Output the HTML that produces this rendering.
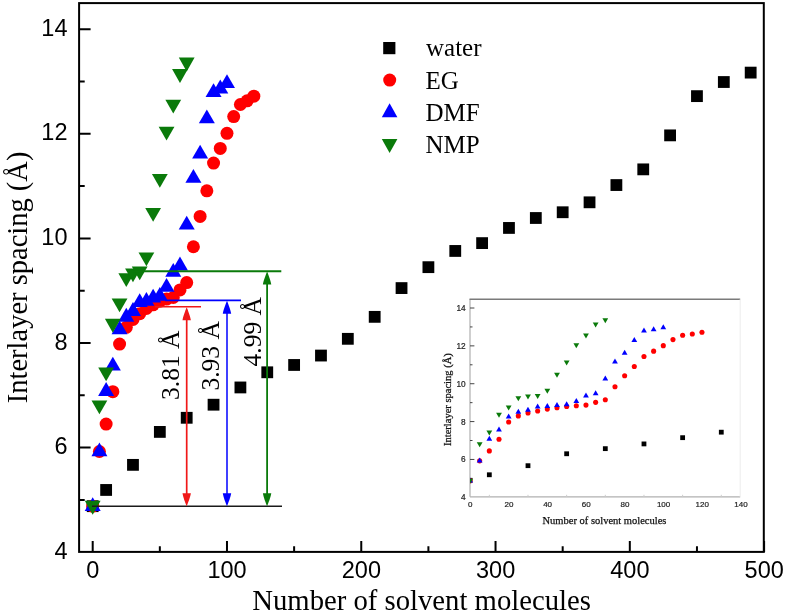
<!DOCTYPE html>
<html><head><meta charset="utf-8"><title>Interlayer spacing vs number of solvent molecules</title>
<style>
html,body{margin:0;padding:0;background:#fff;}
body{width:785px;height:613px;overflow:hidden;}
svg{display:block;}
.sans{font-family:"Liberation Sans",Arial,sans-serif;}
.serif{font-family:"Liberation Serif","Times New Roman",serif;}
</style></head><body>
<svg width="785" height="613" viewBox="0 0 785 613">
<rect width="785" height="613" fill="#fff"/>

<path d="M92.7 551.9V541.1M226.98 551.9V541.1M361.26 551.9V541.1M495.54 551.9V541.1M629.82 551.9V541.1M764.1 551.9V541.1M159.84 551.9V546.3M294.12 551.9V546.3M428.4 551.9V546.3M562.68 551.9V546.3M696.96 551.9V546.3M79.1 447.6H90.6M79.1 343H90.6M79.1 238.4H90.6M79.1 133.8H90.6M79.1 29.2H90.6M79.1 499.9H84.7M79.1 395.3H84.7M79.1 290.7H84.7M79.1 186.1H84.7M79.1 81.5H84.7" stroke="#000" stroke-width="2" fill="none"/>
<rect x="79.1" y="3.1" width="684.7" height="548.8" fill="none" stroke="#000" stroke-width="2"/>
<g class="sans" font-size="23.5" fill="#000" text-anchor="end">
<text x="67.5" y="558.7">4</text>
<text x="67.5" y="454.1">6</text>
<text x="67.5" y="349.5">8</text>
<text x="67.5" y="244.9">10</text>
<text x="67.5" y="140.3">12</text>
<text x="67.5" y="35.7">14</text>
</g>
<g class="sans" font-size="23.5" fill="#000" text-anchor="middle">
<text x="92.8" y="578.3">0</text>
<text x="227.08" y="578.3">100</text>
<text x="361.36" y="578.3">200</text>
<text x="495.64" y="578.3">300</text>
<text x="629.92" y="578.3">400</text>
<text x="764.2" y="578.3">500</text>
</g>
<text class="serif" font-size="28.7" x="252.3" y="610.3">Number of solvent molecules</text>
<text class="serif" font-size="28.5" transform="translate(26.5 403.2) rotate(-90)">Interlayer spacing (Å)</text>
<defs><clipPath id="ic"><rect x="470.0" y="299.2" width="270.2" height="197.6"/></clipPath></defs>
<g>
<path d="M470.0 496.8V299.2" stroke="#a8a8a8" stroke-width="1.1" fill="none"/>
<path d="M470.0 496.8H740.2" stroke="#b0b0b0" stroke-width="1.2" fill="none"/>
<path d="M469.5 299.2H740.2" stroke="#7a7a7a" stroke-width="1.6" fill="none"/>
<path d="M740.2 299.2V496.8" stroke="#ececec" stroke-width="1" fill="none"/>
<path d="M470.0 459.44h4.4M470.0 421.58h4.4M470.0 383.72h4.4M470.0 345.86h4.4M470.0 308h4.4M470.0 478.37h2.5M470.0 440.51h2.5M470.0 402.65h2.5M470.0 364.79h2.5M470.0 326.93h2.5" stroke="#444" stroke-width="1" fill="none"/>
<path d="M489.33 496.8v-2M527.99 496.8v-2M566.65 496.8v-2M605.31 496.8v-2M643.97 496.8v-2M682.63 496.8v-2M721.29 496.8v-2" stroke="#ccc" stroke-width="1" fill="none"/>
<g class="sans" font-size="8.3" fill="#222" stroke="#222" stroke-width="0.2" text-anchor="end">
<text x="465.7" y="500.3">4</text>
<text x="465.7" y="462.44">6</text>
<text x="465.7" y="424.58">8</text>
<text x="465.7" y="386.72">10</text>
<text x="465.7" y="348.86">12</text>
<text x="465.7" y="311">14</text>
</g>
<g class="sans" font-size="8" fill="#222" stroke="#222" stroke-width="0.2" text-anchor="middle">
<text x="470.3" y="507.4">0</text>
<text x="508.96" y="507.4">20</text>
<text x="547.62" y="507.4">40</text>
<text x="586.28" y="507.4">60</text>
<text x="624.94" y="507.4">80</text>
<text x="663.6" y="507.4">100</text>
<text x="702.26" y="507.4">120</text>
<text x="740.92" y="507.4">140</text>
</g>
<text class="serif" font-size="10.5" fill="#111" stroke="#111" stroke-width="0.25" x="542.5" y="523.5">Number of solvent molecules</text>
<text class="serif" font-size="10.5" fill="#111" stroke="#111" stroke-width="0.25" transform="translate(451 446) rotate(-90)">Interlayer spacing (Å)</text>
<g clip-path="url(#ic)">
<g fill="#000"><rect x="467.6" y="478.24" width="4.8" height="4.8"/><rect x="486.93" y="472.37" width="4.8" height="4.8"/><rect x="525.59" y="463.29" width="4.8" height="4.8"/><rect x="564.25" y="451.36" width="4.8" height="4.8"/><rect x="602.91" y="446.25" width="4.8" height="4.8"/><rect x="641.57" y="441.52" width="4.8" height="4.8"/><rect x="680.23" y="435.27" width="4.8" height="4.8"/><rect x="718.89" y="429.78" width="4.8" height="4.8"/></g>
<g fill="#ff0000"><circle cx="470" cy="480.64" r="2.55"/><circle cx="479.67" cy="460.86" r="2.55"/><circle cx="489.33" cy="450.92" r="2.55"/><circle cx="499" cy="439.18" r="2.55"/><circle cx="508.66" cy="421.96" r="2.55"/><circle cx="518.33" cy="415.9" r="2.55"/><circle cx="527.99" cy="413.06" r="2.55"/><circle cx="537.65" cy="410.98" r="2.55"/><circle cx="547.32" cy="409.09" r="2.55"/><circle cx="556.99" cy="407.76" r="2.55"/><circle cx="566.65" cy="406.44" r="2.55"/><circle cx="576.32" cy="405.68" r="2.55"/><circle cx="585.98" cy="405.11" r="2.55"/><circle cx="595.64" cy="402.37" r="2.55"/><circle cx="605.31" cy="399.72" r="2.55"/><circle cx="614.98" cy="386.75" r="2.55"/><circle cx="624.64" cy="375.77" r="2.55"/><circle cx="634.31" cy="366.49" r="2.55"/><circle cx="643.97" cy="356.46" r="2.55"/><circle cx="653.63" cy="351.16" r="2.55"/><circle cx="663.3" cy="345.67" r="2.55"/><circle cx="672.97" cy="339.61" r="2.55"/><circle cx="682.63" cy="335.26" r="2.55"/><circle cx="692.3" cy="333.93" r="2.55"/><circle cx="701.96" cy="332.23" r="2.55"/></g>
<g fill="#0000ff"><path d="M470 477.38L472.9 482.38L467.1 482.38Z"/><path d="M479.67 457.58L482.56 462.58L476.77 462.58Z"/><path d="M489.33 435.74L492.23 440.74L486.43 440.74Z"/><path d="M499 426.56L501.89 431.56L496.1 431.56Z"/><path d="M508.66 413.4L511.56 418.4L505.76 418.4Z"/><path d="M518.33 408.86L521.23 413.86L515.43 413.86Z"/><path d="M527.99 406.78L530.89 411.78L525.09 411.78Z"/><path d="M537.65 403.56L540.55 408.56L534.75 408.56Z"/><path d="M547.32 403.12L550.22 408.12L544.42 408.12Z"/><path d="M556.99 401.93L559.88 406.93L554.09 406.93Z"/><path d="M566.65 401.29L569.55 406.29L563.75 406.29Z"/><path d="M576.32 398.07L579.22 403.07L573.42 403.07Z"/><path d="M585.98 392.58L588.88 397.58L583.08 397.58Z"/><path d="M595.64 390.31L598.54 395.31L592.75 395.31Z"/><path d="M605.31 375.54L608.21 380.54L602.41 380.54Z"/><path d="M614.98 358.6L617.88 363.6L612.08 363.6Z"/><path d="M624.64 349.8L627.54 354.8L621.74 354.8Z"/><path d="M634.31 337.02L637.21 342.02L631.41 342.02Z"/><path d="M643.97 327.55L646.87 332.55L641.07 332.55Z"/><path d="M653.63 326.25L656.53 331.25L650.74 331.25Z"/><path d="M663.3 324.3L666.2 329.3L660.4 329.3Z"/></g>
<g fill="#0a7a0a"><path d="M467.1 478.71L472.9 478.71L470 483.71Z"/><path d="M476.77 442.36L482.56 442.36L479.67 447.36Z"/><path d="M486.43 430.44L492.23 430.44L489.33 435.44Z"/><path d="M496.1 412.83L501.89 412.83L499 417.83Z"/><path d="M505.76 405.45L511.56 405.45L508.66 410.45Z"/><path d="M515.43 396.29L521.23 396.29L518.33 401.29Z"/><path d="M525.09 394.6L530.89 394.6L527.99 399.6Z"/><path d="M534.75 393.9L540.55 393.9L537.65 398.9Z"/><path d="M544.42 388.79L550.22 388.79L547.32 393.79Z"/><path d="M554.09 372.7L559.88 372.7L556.99 377.7Z"/><path d="M563.75 360.4L569.55 360.4L566.65 365.4Z"/><path d="M573.42 343.27L579.22 343.27L576.32 348.27Z"/><path d="M583.08 333.52L588.88 333.52L585.98 338.52Z"/><path d="M592.75 322.44L598.54 322.44L595.64 327.44Z"/><path d="M602.41 318.28L608.21 318.28L605.31 323.28Z"/></g>
</g>
</g>
<g fill="#000"><rect x="86.8" y="500.28" width="11.8" height="11.8"/><rect x="100.23" y="484.06" width="11.8" height="11.8"/><rect x="127.08" y="458.96" width="11.8" height="11.8"/><rect x="153.94" y="426.01" width="11.8" height="11.8"/><rect x="180.8" y="411.89" width="11.8" height="11.8"/><rect x="207.65" y="398.81" width="11.8" height="11.8"/><rect x="234.51" y="381.55" width="11.8" height="11.8"/><rect x="261.36" y="366.39" width="11.8" height="11.8"/><rect x="288.22" y="359.07" width="11.8" height="11.8"/><rect x="315.08" y="349.65" width="11.8" height="11.8"/><rect x="341.93" y="332.92" width="11.8" height="11.8"/><rect x="368.79" y="310.95" width="11.8" height="11.8"/><rect x="395.64" y="282.18" width="11.8" height="11.8"/><rect x="422.5" y="261.27" width="11.8" height="11.8"/><rect x="449.36" y="245.05" width="11.8" height="11.8"/><rect x="476.21" y="237.21" width="11.8" height="11.8"/><rect x="503.07" y="222.04" width="11.8" height="11.8"/><rect x="529.92" y="212.1" width="11.8" height="11.8"/><rect x="556.78" y="206.35" width="11.8" height="11.8"/><rect x="583.64" y="196.41" width="11.8" height="11.8"/><rect x="610.49" y="179.15" width="11.8" height="11.8"/><rect x="637.35" y="163.46" width="11.8" height="11.8"/><rect x="664.2" y="129.47" width="11.8" height="11.8"/><rect x="691.06" y="90.24" width="11.8" height="11.8"/><rect x="717.92" y="76.12" width="11.8" height="11.8"/><rect x="744.77" y="66.71" width="11.8" height="11.8"/></g>
<g fill="#ff0000"><circle cx="92.7" cy="506.18" r="6.5"/><circle cx="99.41" cy="451.52" r="6.5"/><circle cx="106.13" cy="424.06" r="6.5"/><circle cx="112.84" cy="391.64" r="6.5"/><circle cx="119.56" cy="344.05" r="6.5"/><circle cx="126.27" cy="327.31" r="6.5"/><circle cx="132.98" cy="319.47" r="6.5"/><circle cx="139.7" cy="313.71" r="6.5"/><circle cx="146.41" cy="308.48" r="6.5"/><circle cx="153.13" cy="304.82" r="6.5"/><circle cx="159.84" cy="301.16" r="6.5"/><circle cx="166.55" cy="299.07" r="6.5"/><circle cx="173.27" cy="297.5" r="6.5"/><circle cx="179.98" cy="289.92" r="6.5"/><circle cx="186.7" cy="282.59" r="6.5"/><circle cx="193.41" cy="246.77" r="6.5"/><circle cx="200.12" cy="216.43" r="6.5"/><circle cx="206.84" cy="190.81" r="6.5"/><circle cx="213.55" cy="163.09" r="6.5"/><circle cx="220.27" cy="148.44" r="6.5"/><circle cx="226.98" cy="133.28" r="6.5"/><circle cx="233.69" cy="116.54" r="6.5"/><circle cx="240.41" cy="104.51" r="6.5"/><circle cx="247.12" cy="100.85" r="6.5"/><circle cx="253.84" cy="96.14" r="6.5"/></g>
<g fill="#0000ff"><path d="M92.7 497.18L100.7 510.98L84.7 510.98Z"/><path d="M99.41 442.48L107.41 456.28L91.41 456.28Z"/><path d="M106.13 382.12L114.13 395.92L98.13 395.92Z"/><path d="M112.84 356.76L120.84 370.56L104.84 370.56Z"/><path d="M119.56 320.41L127.56 334.21L111.56 334.21Z"/><path d="M126.27 307.86L134.27 321.66L118.27 321.66Z"/><path d="M132.98 302.1L140.98 315.9L124.98 315.9Z"/><path d="M139.7 293.21L147.7 307.01L131.7 307.01Z"/><path d="M146.41 292.01L154.41 305.81L138.41 305.81Z"/><path d="M153.13 288.72L161.13 302.52L145.13 302.52Z"/><path d="M159.84 286.94L167.84 300.74L151.84 300.74Z"/><path d="M166.55 278.05L174.55 291.85L158.55 291.85Z"/><path d="M173.27 262.88L181.27 276.68L165.27 276.68Z"/><path d="M179.98 256.6L187.98 270.4L171.98 270.4Z"/><path d="M186.7 215.81L194.7 229.61L178.7 229.61Z"/><path d="M193.41 169L201.41 182.8L185.41 182.8Z"/><path d="M200.12 144.68L208.12 158.48L192.12 158.48Z"/><path d="M206.84 109.38L214.84 123.18L198.84 123.18Z"/><path d="M213.55 83.23L221.55 97.03L205.55 97.03Z"/><path d="M220.27 79.62L228.27 93.42L212.27 93.42Z"/><path d="M226.98 74.23L234.98 88.03L218.98 88.03Z"/></g>
<g fill="#0a7a0a"><path d="M84.8 500.85L100.6 500.85L92.7 514.64Z"/><path d="M91.51 400.43L107.31 400.43L99.41 414.23Z"/><path d="M98.23 367.48L114.03 367.48L106.13 381.28Z"/><path d="M104.94 318.84L120.74 318.84L112.84 332.64Z"/><path d="M111.66 298.44L127.46 298.44L119.56 312.24Z"/><path d="M118.37 273.13L134.17 273.13L126.27 286.93Z"/><path d="M125.08 268.48L140.88 268.48L132.98 282.28Z"/><path d="M131.8 266.54L147.6 266.54L139.7 280.34Z"/><path d="M138.51 252.42L154.31 252.42L146.41 266.22Z"/><path d="M145.23 207.97L161.03 207.97L153.13 221.77Z"/><path d="M151.94 173.97L167.74 173.97L159.84 187.77Z"/><path d="M158.65 126.64L174.45 126.64L166.55 140.44Z"/><path d="M165.37 99.7L181.17 99.7L173.27 113.5Z"/><path d="M172.08 69.11L187.88 69.11L179.98 82.91Z"/><path d="M178.8 57.6L194.6 57.6L186.7 71.4Z"/></g>
<path d="M92 506.3H282" stroke="#1a1a1a" stroke-width="1.5" fill="none"/>
<path d="M155 306.8H201" stroke="#f01818" stroke-width="1.5" fill="none"/>
<path d="M186.7 309.8V503" stroke="#f01818" stroke-width="1.7" fill="none"/>
<path d="M186.7 307.2C187.9 310.2 190.3 316.2 190.9 320.2H182.5C183.1 316.2 185.5 310.2 186.7 307.2Z" fill="#f01818"/>
<path d="M186.7 506.2C187.9 503.2 190.3 497.2 190.9 493.2H182.5C183.1 497.2 185.5 503.2 186.7 506.2Z" fill="#f01818"/>
<path d="M165 300.4H241" stroke="#0000ff" stroke-width="1.9" fill="none"/>
<path d="M227.0 303.4V503" stroke="#0000ff" stroke-width="1.5" fill="none"/>
<path d="M227 300.8C228.2 303.8 230.6 309.8 231.2 313.8H222.8C223.4 309.8 225.8 303.8 227 300.8Z" fill="#0000ff"/>
<path d="M227 506.2C228.2 503.2 230.6 497.2 231.2 493.2H222.8C223.4 497.2 225.8 503.2 227 506.2Z" fill="#0000ff"/>
<path d="M133 271.2H281.3" stroke="#0a7a0a" stroke-width="2.1" fill="none"/>
<path d="M267.1 274.2V503" stroke="#0a7a0a" stroke-width="1.8" fill="none"/>
<path d="M267.1 271.6C268.3 274.6 270.7 280.6 271.3 284.6H262.9C263.5 280.6 265.9 274.6 267.1 271.6Z" fill="#0a7a0a"/>
<path d="M267.1 506.2C268.3 503.2 270.7 497.2 271.3 493.2H262.9C263.5 497.2 265.9 503.2 267.1 506.2Z" fill="#0a7a0a"/>
<g class="serif" font-size="25.5" fill="#000">
<text transform="translate(179.4 399.9) rotate(-90)">3.81 Å</text>
<text transform="translate(218.6 390.5) rotate(-90)">3.93 Å</text>
<text transform="translate(260.6 366.4) rotate(-90)">4.99 Å</text>
</g>
<rect x="383.2" y="42" width="12.2" height="12.2" fill="#000"/>
<circle cx="389.7" cy="80.1" r="6.5" fill="#ff0000"/>
<path fill="#0000ff" d="M389.6 103.3L397.4 117.3L381.8 117.3Z"/>
<path fill="#0a7a0a" d="M381.8 139.1L397.4 139.1L389.6 153.1Z"/>
<g class="serif" font-size="25" fill="#000">
<text x="426" y="56">water</text>
<text x="425.5" y="88.6">EG</text>
<text x="425.5" y="121.4">DMF</text>
<text x="425.5" y="153.4">NMP</text>
</g>
</svg>
</body></html>
